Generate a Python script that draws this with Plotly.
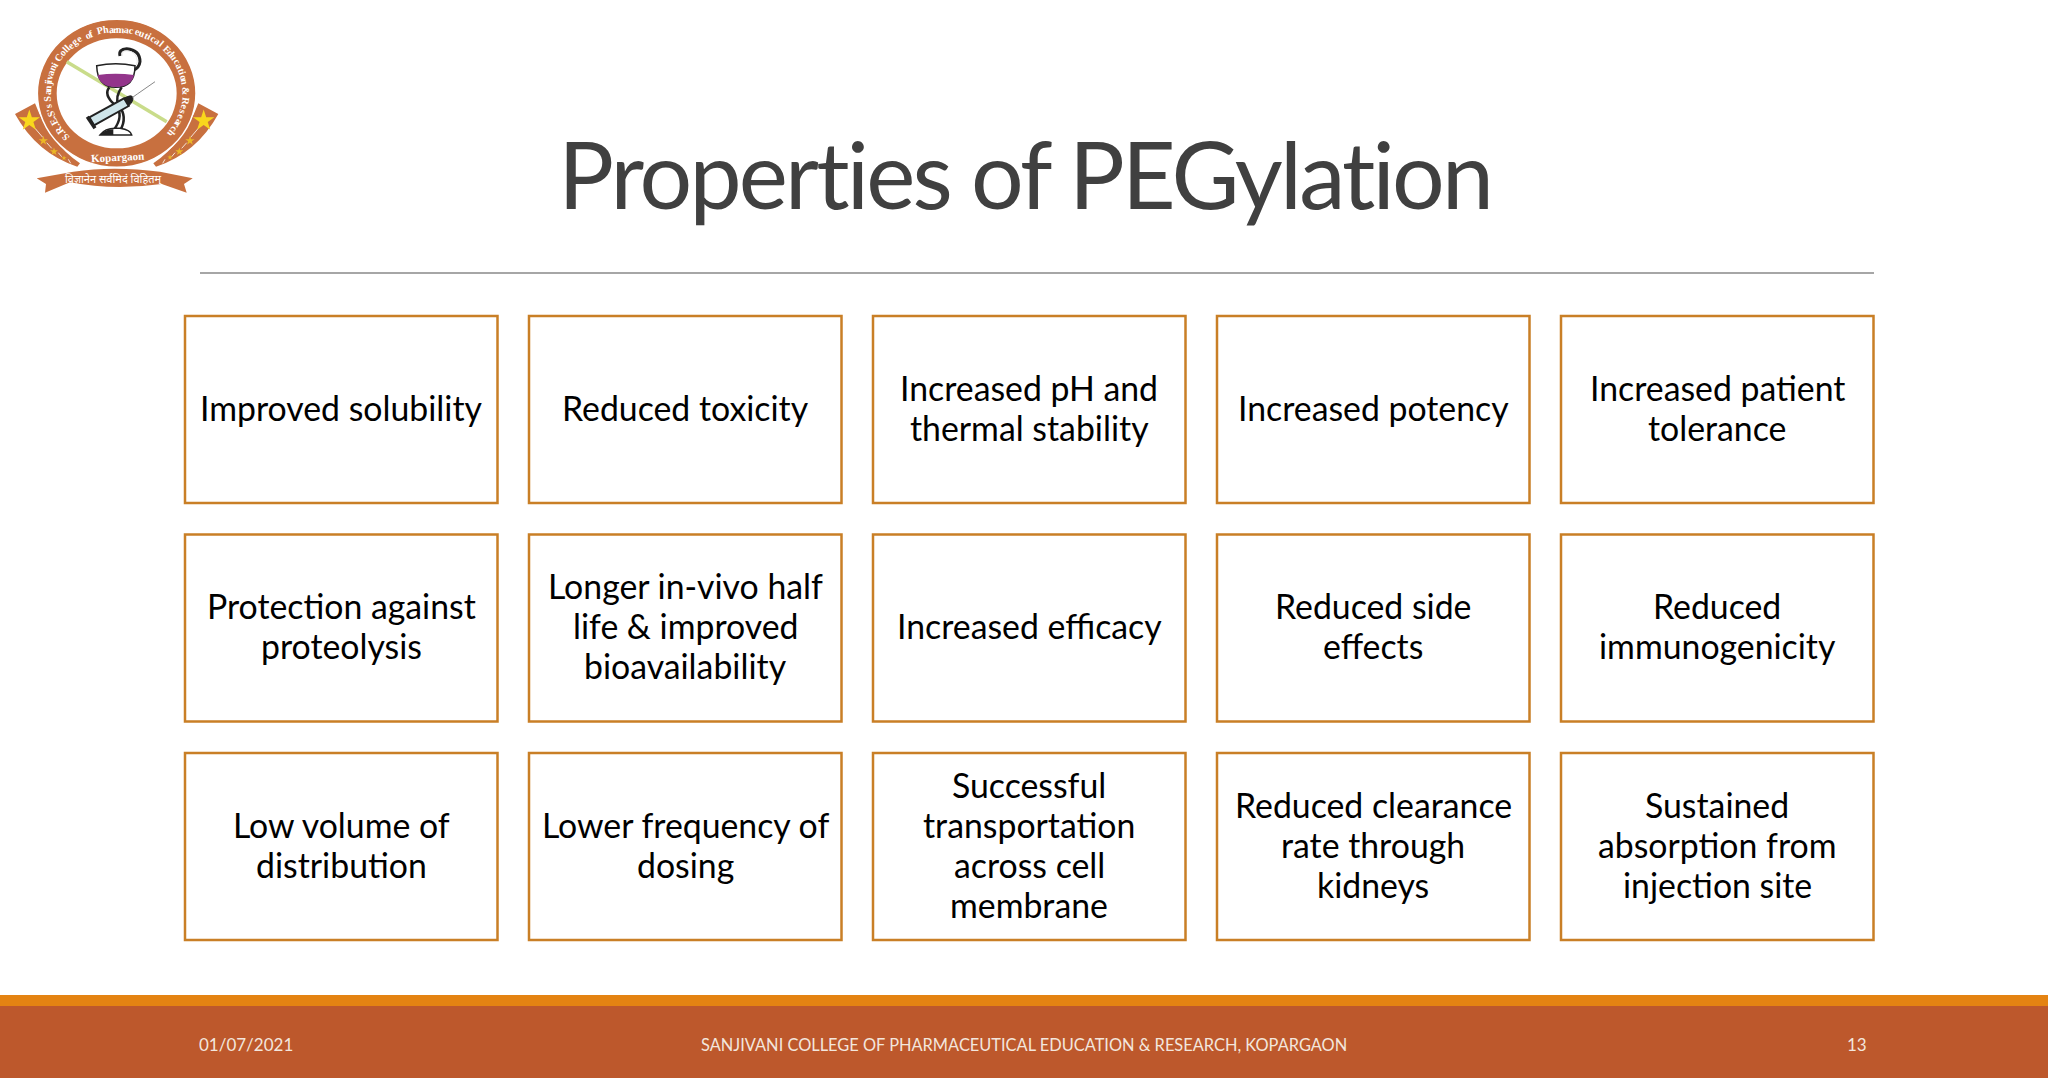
import math
import plotly.graph_objects as go

W = 2048
H = 1078

title = 'Properties of PEGylation'

row1 = [['Improved solubility'], ['Reduced toxicity'], ['Increased pH and', 'thermal stability'],
        ['Increased potency'], ['Increased patient', 'tolerance']]
row2 = [['Protection against', 'proteolysis'], ['Longer in-vivo half', 'life & improved', 'bioavailability'],
        ['Increased efficacy'], ['Reduced side', 'effects'], ['Reduced', 'immunogenicity']]
row3 = [['Low volume of', 'distribution'], ['Lower frequency of', 'dosing'],
        ['Successful', 'transportation', 'across cell', 'membrane'],
        ['Reduced clearance', 'rate through', 'kidneys'], ['Sustained', 'absorption from', 'injection site']]
rows = [row1, row2, row3]

footer_date = '01/07/2021'
footer_college = 'SANJIVANI COLLEGE OF PHARMACEUTICAL EDUCATION & RESEARCH, KOPARGAON'
footer_page = '13'

logo_ring = "S.R.E.S's Sanjivani College of Pharmaceutical Education & Research"
logo_town = 'Kopargaon'
logo_motto = 'विज्ञानेन सर्वमिदं विहितम्'

BODY_FONT = 'Lato'
ORANGE = '#C97F26'
LOGO = '#C8703F'

shapes = []
notes = []


def rect(x0, y0, x1, y1, fill='rgba(0,0,0,0)', line=None, width=0):
    shapes.append(dict(type='rect', x0=x0, y0=y0, x1=x1, y1=y1, fillcolor=fill, layer='below',
                       line=dict(color=line or fill, width=width)))


def text(x, y, s, size, color='#000000', family=BODY_FONT, angle=0, bold=False):
    if bold:
        s = '<b>' + s + '</b>'
    notes.append(dict(x=x, y=y, text=s, showarrow=False, xanchor='center', yanchor='middle',
                      textangle=angle, font=dict(family=family, size=size, color=color)))


# logo is traced in the coordinates of a 3x crop
def z(v):
    return v / 3.0


def path(d, fill=None, line=None, width=1):
    parts = []
    for tok in d.split():
        if tok[0].isalpha():
            parts.append(tok)
        else:
            a, b = tok.split(',')
            parts.append('%.1f,%.1f' % (z(float(a)), z(float(b))))
    shapes.append(dict(type='path', path=' '.join(parts), fillcolor=fill or 'rgba(0,0,0,0)', layer='below',
                       line=dict(color=line or 'rgba(0,0,0,0)', width=width)))


def ellipse(cx, cy, rx, ry, fill, line='rgba(0,0,0,0)', width=0):
    shapes.append(dict(type='circle', x0=z(cx - rx), y0=z(cy - ry), x1=z(cx + rx), y1=z(cy + ry),
                       fillcolor=fill, layer='below', line=dict(color=line, width=width)))


# footer
rect(0, 995, W, 1006, fill='#E48312')
rect(0, 1006, W, H, fill='#BD582C')
text(246, 1044, footer_date, 17, '#F3E6DD')
text(1024, 1044, footer_college, 16.4, '#F3E6DD')
text(1857, 1044, footer_page, 17, '#F3E6DD')

# title and rule, the title stays the fourth note so the style below can find it
text(1024, 173, title, 93, '#404040', family='Lato')
shapes.append(dict(type='line', x0=200, x1=1874, y0=273, y1=273, layer='below',
                   line=dict(color='#A6A6A6', width=2)))

# boxes
box_w = 312.5
box_h = 187
col_step = 344
row_step = 218.5
left = 185
top = 316
line_step = 40
for r, row in enumerate(rows):
    for c, lines in enumerate(row):
        x0 = left + c * col_step
        y0 = top + r * row_step
        rect(x0, y0, x0 + box_w, y0 + box_h, line=ORANGE, width=2.5)
        first = y0 + box_h / 2 - (len(lines) - 1) * line_step / 2
        for i, s in enumerate(lines):
            text(x0 + box_w / 2, first + i * line_step - 2, s, 33.8, family=BODY_FONT)

# logo: ribbons
path('M 45,342 L 105,310 Q 150,430 240,490 L 232,500 Q 110,460 45,342 Z', fill=LOGO)
path('M 655,342 L 595,310 Q 550,430 460,490 L 468,500 Q 590,460 655,342 Z', fill=LOGO)
path('M 110,535 L 220,515 Q 340,497 480,515 L 578,535 L 552,552 L 560,578 '
     'L 485,552 Q 340,572 210,547 L 135,578 L 138,552 Z', fill=LOGO)

# logo: white dividers on the ribbons
for d in ['M 105,385 L 128,412', 'M 140,428 L 155,445', 'M 175,458 L 185,470', 'M 205,478 L 212,490',
          'M 595,385 L 572,412', 'M 560,428 L 545,445', 'M 525,458 L 515,470', 'M 495,478 L 488,490']:
    path(d, line='#F4E3D8', width=1)

# logo: ring, wider than tall in the slide
ellipse(350, 280, 238, 222, LOGO, line='#FFFFFF', width=1.5)
ellipse(350, 280, 180, 165, '#FFFFFF')

# logo: crossing bar, cup, snake, syringe
path('M 200,185 L 500,365', line='#C9DC8A', width=3.5)
path('M 360,168 Q 355,148 380,146 Q 420,150 420,185 Q 418,205 398,212', line='#222222', width=3)
path('M 366,168 Q 364,153 380,152 Q 412,155 412,185 Q 410,200 396,206', line='#E8E8E8', width=1)
path('M 290,197 Q 347,185 405,197 Q 405,262 347,262 Q 292,262 290,197 Z', fill='#FFFFFF', line='#222222', width=1.5)
path('M 293,225 Q 347,217 402,225 Q 395,260 347,261 Q 300,260 293,225 Z', fill='#93358B')
path('M 328,262 Q 310,285 345,315 Q 375,345 340,392', line='#222222', width=2.5)
path('M 365,262 Q 345,290 355,315 Q 385,350 360,392', line='#222222', width=2.5)
path('M 268,352 L 372,295 L 386,318 L 282,376 Z', fill='#CFE5EA', line='#222222', width=2)
path('M 262,350 L 285,385', line='#222222', width=3.5)
path('M 372,295 Q 395,282 398,292 Q 402,302 386,318 Z', fill='#222222', line='#222222', width=1)
path('M 398,292 L 412,282 L 465,245', line='#888888', width=1)
path('M 300,405 Q 315,385 345,385 L 360,385 Q 392,390 395,405 Z', fill='#FFFFFF', line='#222222', width=1.5)
path('M 300,405 Q 312,388 340,388 L 340,405 Z', fill='#222222')

# logo: lettering
weights = {'.': .5, "'": .45, 'i': .55, 'l': .55, 'j': .55, 't': .7, 'f': .7, 'r': .75, ' ': .6, '&': 1.4,
           'S': 1.1, 'R': 1.4, 'E': 1.2, 'C': 1.3, 'P': 1.2}
total = sum(weights.get(ch, 1) for ch in logo_ring)
pos = 0
for ch in logo_ring:
    w = weights.get(ch, 1)
    theta = -135 + 266 * (pos + w / 2) / total
    pos += w
    if ch == ' ':
        continue
    t = math.radians(theta)
    text(z(350 + 209 * math.sin(t)), z(280 - 193 * math.cos(t)), ch, 10, '#FFFFFF',
         family='Liberation Serif', angle=theta, bold=True)
text(z(352), z(470), logo_town, 11, '#FFFFFF', family='Liberation Serif', angle=-3, bold=True)
text(z(342), z(536), logo_motto, 11, '#FFFFFF', family='Noto Sans')

# logo: stars
big = go.Scatter(x=[z(88), z(611)], y=[z(362), z(362)], mode='markers', hoverinfo='skip',
                 marker=dict(symbol='star', size=16, color='#F9D71C', line=dict(width=0)))
small = go.Scatter(x=[z(130), z(162), z(192), z(570), z(538), z(510)],
                   y=[z(422), z(455), z(474), z(422), z(455), z(472)], mode='markers', hoverinfo='skip',
                   marker=dict(symbol='star', size=[7, 6, 4, 7, 6, 4], color='#F9D71C', line=dict(width=0)))

fig = go.Figure([big, small])
fig.update_layout(width=W, height=H, showlegend=False,
                  margin=dict(l=0, r=0, t=0, b=0, pad=0),
                  paper_bgcolor='#FFFFFF', plot_bgcolor='#FFFFFF',
                  shapes=shapes, annotations=notes)
fig.update_xaxes(range=[0, W], visible=False, domain=[0, 1], fixedrange=True)
fig.update_yaxes(range=[H, 0], visible=False, domain=[0, 1], fixedrange=True)

# no page margin, no ligatures, and the tighter tracking of the slide title
page_css = """
document.body.style.margin = '0';
var st = document.createElement('style');
st.textContent = 'text{font-variant-ligatures:none}'
  + '.annotation[data-index="3"] text{letter-spacing:-2.8px}';
document.head.appendChild(st);
"""
fig.write_html('out.html', config=dict(displayModeBar=False), post_script=page_css)
